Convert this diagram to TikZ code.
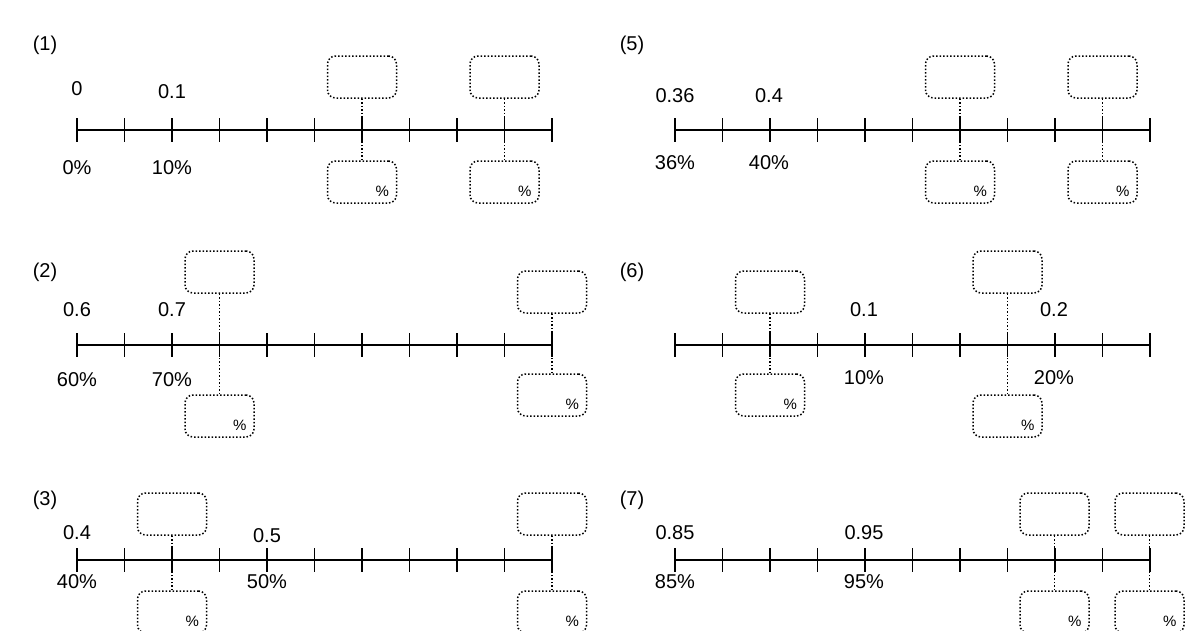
\documentclass[tikz,border=0pt]{standalone}
\usepackage{fontspec}
\setmainfont{Liberation Sans}
\begin{document}
\begin{tikzpicture}[x=1pt,y=-1pt,
  box/.style={draw,dotted,line width=1.5pt,rounded corners=8pt,minimum width=69pt,minimum height=42pt,inner sep=0pt},
  conn/.style={dotted,line width=1.5pt},
  axis/.style={line width=1.8pt},
  lbl/.style={font=\fontsize{20}{22}\selectfont},
  pct/.style={font=\fontsize{15}{17}\selectfont,anchor=south east,inner sep=0pt}]
\useasboundingbox (0,0) rectangle (1200,630);
% generic number line
\newcommand\nline[2]{% x0, y
  \draw[axis] (#1,#2) -- ++(475,0);
  \foreach \i in {0,...,10}{\draw[axis,line width=1.5pt] (#1+47.5*\i,#2-12) -- (#1+47.5*\i,#2+12);}
}
% box macro: name, x, top center y, bottom center y, line y
\newcommand\qbox[5]{%
  \node[box] (#1t) at (#2,#3) {};
  \draw[conn] (#1t.south) -- (#2,#5);
  \node[box] (#1b) at (#2,#4) {};
  \draw[conn] (#1b.north) -- (#2,#5);
  \node[pct] (#1p) at ([shift={(-8,-7)}]#1b.south east) {\%};
}
% (1)
\node[lbl] (t1) at (45,45) {(1)};
\nline{77}{130}
\node[lbl] (a1) at (77,89) {0};
\node[lbl] (a2) at (172,92) {0.1};
\node[lbl] (b1) at (77,168) {0\%};
\node[lbl] (b2) at (172,168) {10\%};
\qbox{p1a}{362}{77}{182}{130}
\qbox{p1b}{504.5}{77}{182}{130}
% (5)
\node[lbl] (t5) at (632,45) {(5)};
\nline{675}{130}
\node[lbl] (c1) at (675,96) {0.36};
\node[lbl] (c2) at (769,96) {0.4};
\node[lbl] (d1) at (675,163) {36\%};
\node[lbl] (d2) at (769,163) {40\%};
\qbox{p5a}{960}{77}{182}{130}
\qbox{p5b}{1102.5}{77}{182}{130}
% (2)
\node[lbl] (t2) at (45,272) {(2)};
\nline{77}{345}
\node[lbl] (e1) at (77,310) {0.6};
\node[lbl] (e2) at (172,310) {0.7};
\node[lbl] (f1) at (77,380) {60\%};
\node[lbl] (f2) at (172,380) {70\%};
\qbox{p2a}{219.5}{272}{416}{345}
\qbox{p2b}{552}{292}{395}{345}
% (6)
\node[lbl] (t6) at (632,272) {(6)};
\nline{675}{345}
\node[lbl] (g1) at (864,310) {0.1};
\node[lbl] (g2) at (1054,310) {0.2};
\node[lbl] (h1) at (864,378) {10\%};
\node[lbl] (h2) at (1054,378) {20\%};
\qbox{p6a}{770}{292}{395}{345}
\qbox{p6b}{1007.5}{272}{416}{345}
% (3)
\node[lbl] (t3) at (45,500) {(3)};
\nline{77}{560}
\node[lbl] (i1) at (77,533) {0.4};
\node[lbl] (i2) at (267,536) {0.5};
\node[lbl] (j1) at (77,582) {40\%};
\node[lbl] (j2) at (267,582) {50\%};
\qbox{p3a}{172}{514}{612}{560}
\qbox{p3b}{552}{514}{612}{560}
% (7)
\node[lbl] (t7) at (632,500) {(7)};
\nline{675}{560}
\node[lbl] (k1) at (675,533) {0.85};
\node[lbl] (k2) at (864,533) {0.95};
\node[lbl] (l1) at (675,582) {85\%};
\node[lbl] (l2) at (864,582) {95\%};
\qbox{p7a}{1054.5}{514}{612}{560}
\qbox{p7b}{1149.5}{514}{612}{560}
\end{tikzpicture}
\end{document}
